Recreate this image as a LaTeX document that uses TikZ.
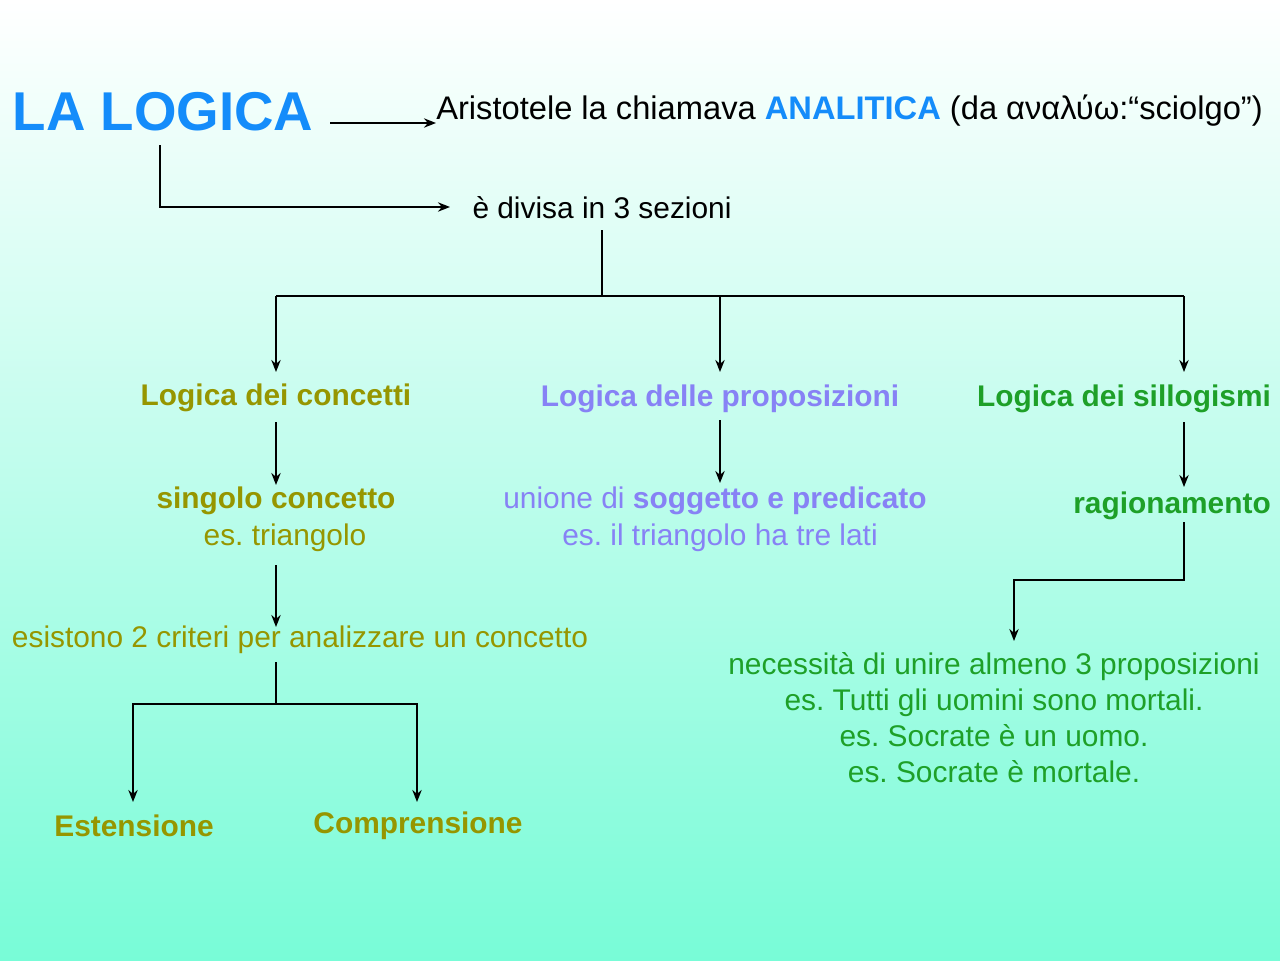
\documentclass[tikz,border=0pt]{standalone}
\usepackage{fontspec}
\setmainfont{Liberation Sans}
\usetikzlibrary{arrows.meta}
\definecolor{tblue}{RGB}{20,140,250}
\definecolor{olive1}{RGB}{150,150,0}
\definecolor{purp}{RGB}{135,130,245}
\definecolor{grn}{RGB}{30,160,40}
\definecolor{aqua}{RGB}{120,252,215}
\frenchspacing
\begin{document}
\begin{tikzpicture}[x=0.75pt,y=-0.75pt,
  arr/.style={draw=black,line width=1.5pt,-{Stealth[length=9pt,width=7pt]}},
  ln/.style={draw=black,line width=1.5pt},
  txt/.style={font=\fontsize{22.4}{26}\selectfont,inner sep=0pt},
  btxt/.style={font=\fontsize{22.4}{26}\selectfont\bfseries,inner sep=0pt}]
\shade[top color=white,bottom color=aqua,middle color={rgb,255:red,190;green,253;blue,236}] (0,0) rectangle (1280,960);
\path[use as bounding box] (0,0) rectangle (1280,960);
\node[inner sep=0pt,font=\fontsize{41}{46}\selectfont\bfseries,text=tblue] (title) at (163,112) {LA LOGICA};
\coordinate (a1) at (330,123);
\node[txt,anchor=west,font=\fontsize{24.5}{28}\selectfont] (ari) at (436,111) {Aristotele la chiamava \textcolor{tblue}{\bfseries ANALITICA} (da αναλύω:“sciolgo”)};
\draw[arr] (a1) -- (ari.west |- a1);
\node[txt] (div) at (602,208) {è divisa in 3 sezioni};
\coordinate (t1) at (160,145);
\draw[arr] (t1) |- (450,207);
\coordinate (d1) at (602,230);
\coordinate (h) at (602,296);
\draw[ln] (d1) -- (h);
\draw[ln] (276,296) -- (1184,296);
\node[btxt,text=olive1] (c1) at (276,398) {Logica dei concetti};
\node[btxt,text=purp] (c2) at (720,399) {Logica delle proposizioni};
\node[btxt,text=grn] (c3) at (1124,399) {Logica dei sillogismi};
\draw[arr] (276,296) -- (276,372);
\draw[arr] (720,296) -- (720,372);
\draw[arr] (1184,296) -- (1184,372);
\node[btxt,text=olive1] (s1) at (276,501) {singolo concetto};
\node[txt,text=olive1] (s1b) at (285,538) {es. triangolo};
\node[txt,text=purp] (s2) at (715,501) {unione di \textbf{soggetto e predicato}};
\node[txt,text=purp] (s2b) at (720,538) {es. il triangolo ha tre lati};
\node[btxt,text=grn] (s3) at (1172,506) {ragionamento};
\draw[arr] (276,422) -- (276,485);
\draw[arr] (720,420) -- (720,483);
\draw[arr] (1184,422) -- (1184,487);
\node[txt,text=grn,align=center,font=\fontsize{22.4}{27}\selectfont] (nec) at (994,718) {necessità di unire almeno 3 proposizioni\\es. Tutti gli uomini sono mortali.\\es. Socrate è un uomo.\\es. Socrate è mortale.};
\draw[arr] (1184,522) -- (1184,580) -- (1014,580) -- (1014,641);
\node[txt,text=olive1] (esi) at (300,640) {esistono 2 criteri per analizzare un concetto};
\draw[arr] (276,565) -- (276,627);
\node[btxt,text=olive1] (est) at (134,826) {Estensione};
\node[btxt,text=olive1] (com) at (418,826) {Comprensione};
\draw[ln] (276,662) -- (276,704);
\draw[arr] (276,704) -| (133,802);
\draw[arr] (276,704) -| (417,802);
\end{tikzpicture}
\end{document}
